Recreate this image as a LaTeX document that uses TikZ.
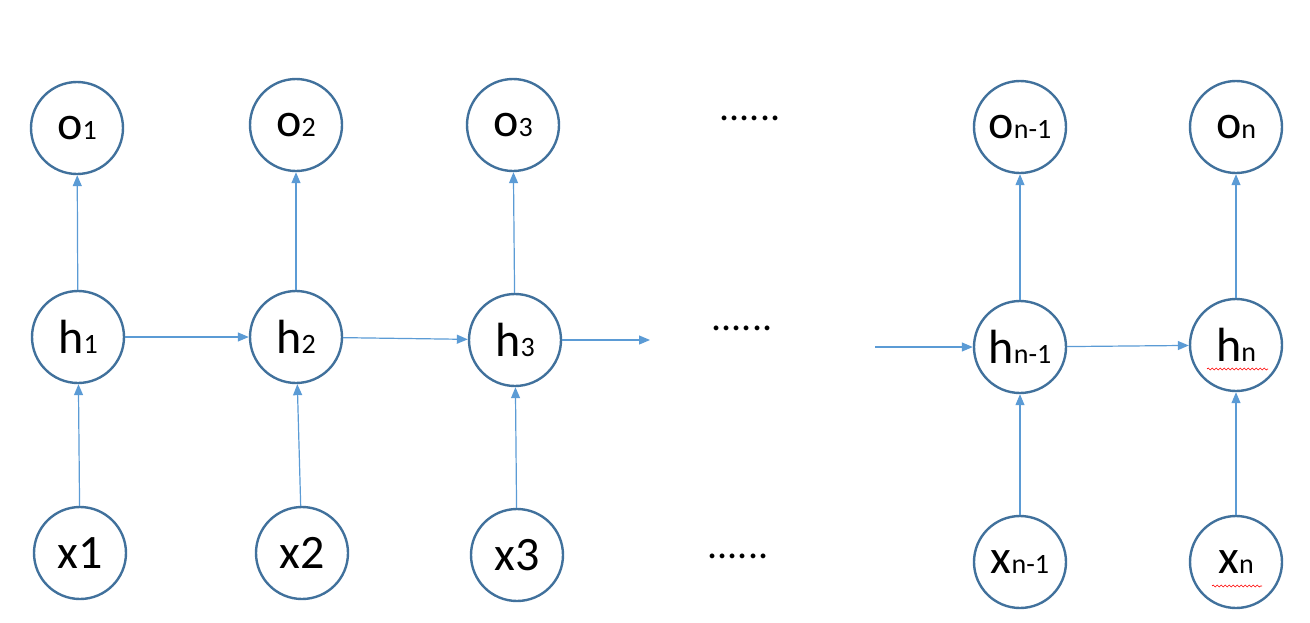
\documentclass[tikz,border=0pt]{standalone}
\usepackage{fontspec}
\setmainfont{Carlito}
\usetikzlibrary{arrows.meta,decorations.pathmorphing}
\definecolor{ring}{HTML}{41719C}
\definecolor{arr}{HTML}{5B9BD5}
\newcommand{\subsz}[1]{{\fontsize{28}{30}\selectfont #1}}
\begin{document}
\begin{tikzpicture}[x=1pt,y=-1pt,
  cell/.style={circle,draw=ring,line width=2.4pt,minimum size=92pt,inner sep=0pt,font=\fontsize{48}{50}\selectfont},
  link/.style={draw=arr,line width=1.2pt,-{Triangle[length=11pt,width=9pt]}},
  dots/.style={font=\fontsize{40}{40}\selectfont},
  spell/.style={draw=red,line width=0.6pt,decorate,decoration={snake,amplitude=1pt,segment length=4pt}}]
\useasboundingbox (0,0) rectangle (1310,622);
\node[cell] (o1) at (77,128) {o\subsz{1}};
\node[cell] (o2) at (296,125) {o\subsz{2}};
\node[cell] (o3) at (513,125) {o\subsz{3}};
\node[cell] (om) at (1020,127) {o\subsz{n-1}};
\node[cell] (on) at (1236,127) {o\subsz{n}};
\node[cell] (h1) at (78,337) {h\subsz{1}};
\node[cell] (h2) at (296,337) {h\subsz{2}};
\node[cell] (h3) at (515,340) {h\subsz{3}};
\node[cell] (hm) at (1020,347) {h\subsz{n-1}};
\node[cell] (hn) at (1236,345) {h\subsz{n}};
\node[cell] (x1) at (80,553) {x1};
\node[cell] (x2) at (302,553) {x2};
\node[cell] (x3) at (517,555) {x3};
\node[cell] (xm) at (1020,562) {x\subsz{n-1}};
\node[cell] (xn) at (1236,562) {x\subsz{n}};
\node[dots] (d1) at (750,118) {......};
\node[dots] (d2) at (742,328) {......};
\node[dots] (d3) at (738,556) {......};
\coordinate (a3) at (650,340);
\coordinate (am) at (875,347);
\foreach \a/\b in {h1/o1,h2/o2,h3/o3,hm/om,hn/on,x1/h1,x2/h2,x3/h3,xm/hm,xn/hn,h1/h2,h2/h3,hm/hn}
  \draw[link] (\a) -- (\b);
\draw[link] (h3) -- (a3);
\draw[link] (am) -- (hm);
\coordinate (s1) at (1207,369); \coordinate (s2) at (1268,369);
\draw[spell] (s1) -- (s2);
\coordinate (s3) at (1212,586); \coordinate (s4) at (1262,586);
\draw[spell] (s3) -- (s4);
\end{tikzpicture}
\end{document}
